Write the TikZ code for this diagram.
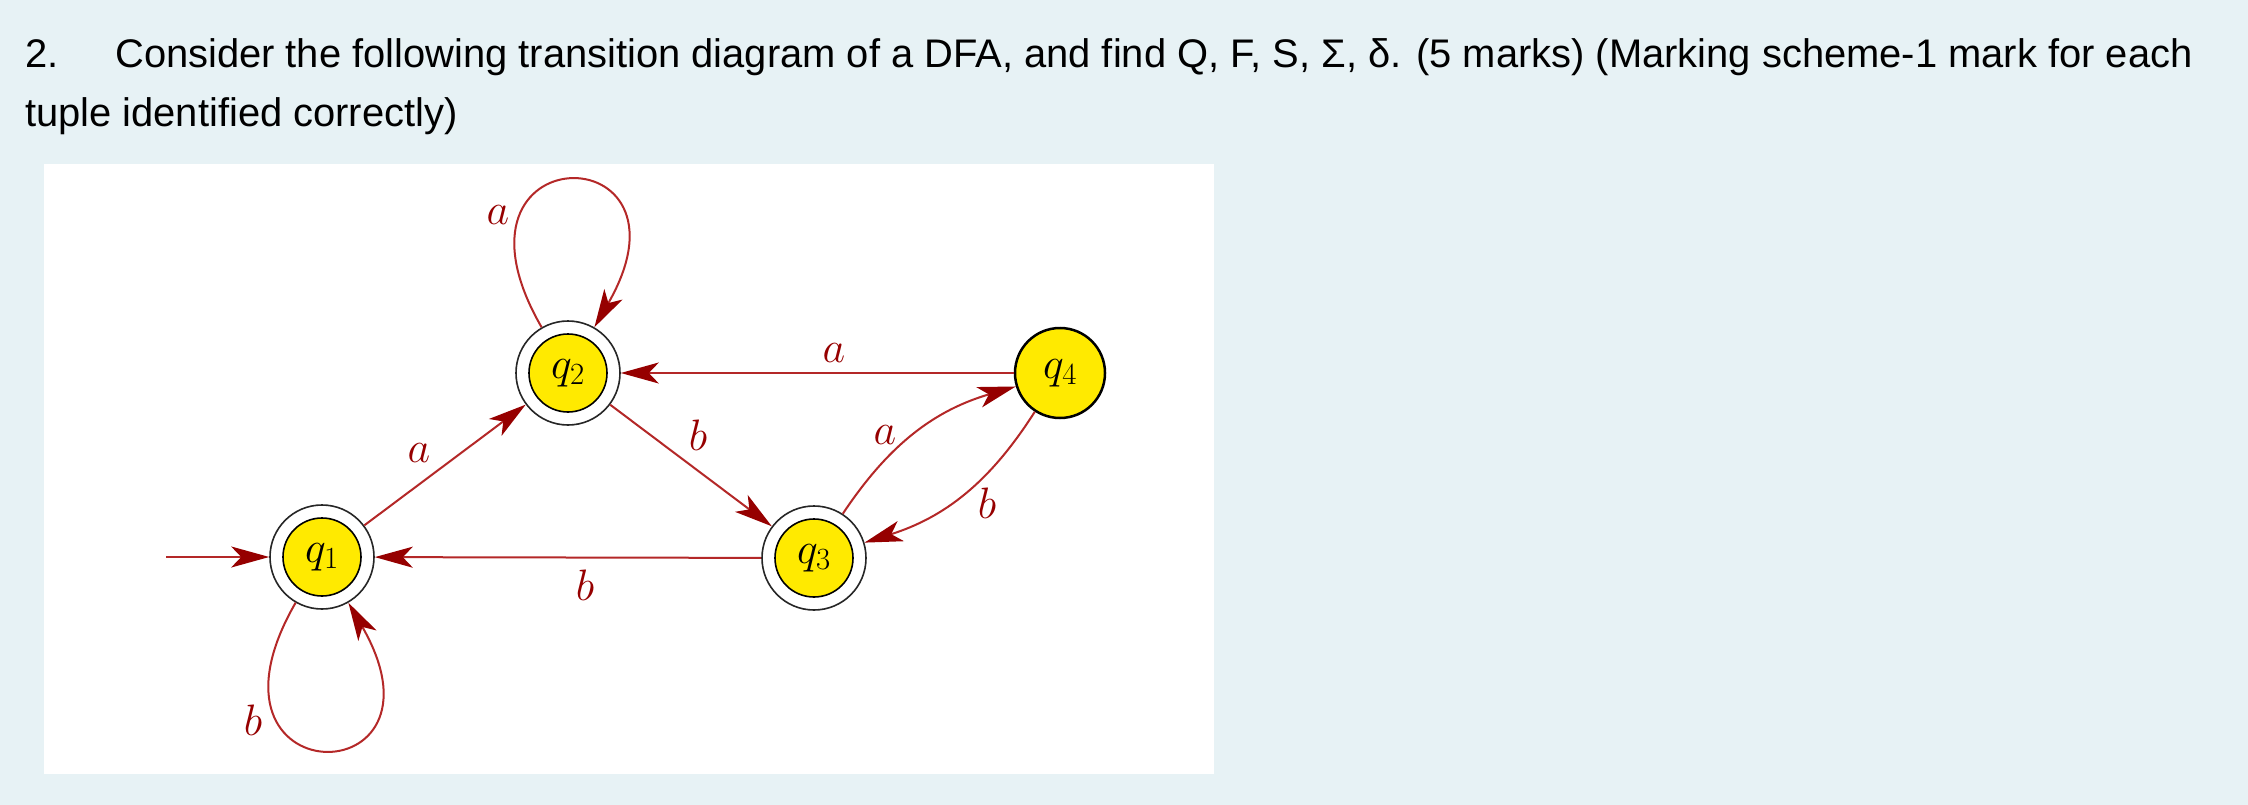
\RequirePackage{fix-cm}
\documentclass[tikz,border=0pt]{standalone}
\usepackage{fontspec}
\setmainfont{Liberation Sans}
\usetikzlibrary{arrows.meta}
\definecolor{bgblue}{RGB}{231,242,245}
\definecolor{stateyellow}{RGB}{255,234,0}
\definecolor{edgered}{RGB}{180,40,40}
\definecolor{tipred}{RGB}{150,0,0}
\newcommand\qfont{\fontsize{39.9}{59}\selectfont}
\newcommand\statefont{\fontsize{44}{50}\selectfont}
\newcommand\lblfont{\fontsize{44}{50}\selectfont}
\begin{document}
\begin{tikzpicture}[x=1pt,y=-1pt,
  acc/.style={circle, draw=black!85, line width=1.6pt, fill=white, minimum size=104pt, inner sep=0pt, font=\statefont,
    path picture={\fill[stateyellow] (path picture bounding box.center) circle[radius=39pt];
                  \draw[black, line width=1.6pt] (path picture bounding box.center) circle[radius=39pt];}},
  plain/.style={circle, draw=black, line width=2.5pt, fill=stateyellow, minimum size=90pt, inner sep=0pt, font=\statefont},
  trans/.style={draw=edgered, line width=2pt, -{Stealth[length=38pt,width=21pt,inset=10pt,color=tipred]}},
  lbl/.style={text=tipred, font=\lblfont, inner sep=0pt},
  txt/.style={anchor=base west, inner sep=0pt, font=\qfont, text=black}]
\fill[bgblue] (0,0) rectangle (2248,805);
\useasboundingbox (0,0) rectangle (2248,805);
\fill[white] (44,164) rectangle (1214,774);

\node[txt] (num) at (25,68) {2.};
\node[txt] (line1) at (115,68) {Consider the following transition diagram of a DFA, and find Q, F, S, Σ, δ. (5 marks) (Marking scheme-1 mark for each};
\node[txt] (line2) at (25,127) {tuple identified correctly)};

\node[acc] (q1) at (322,557) {$q_1$};
\node[acc] (q2) at (568,373) {$q_2$};
\node[acc] (q3) at (814,558) {$q_3$};
\node[plain] (q4) at (1060,373) {$q_4$};
\coordinate (start) at (166,557);

\draw[trans] (start) -- (q1);
\draw[trans] (q1) -- (q2) node[lbl] at (419,453) {$a$};
\draw[trans] (q2) -- (q3) node[lbl] at (698,435) {$b$};
\draw[trans] (q4) -- (q2) node[lbl] at (834,353) {$a$};
\draw[trans] (q3) -- (q1) node[lbl] at (585,585) {$b$};
\draw[trans] (q3) to[bend left=20] (q4) node[lbl] at (885,435) {$a$};
\draw[trans] (q4) to[bend left=20] (q3) node[lbl] at (987,503) {$b$};
\draw[trans] (q2.120) .. controls +(120:225pt) and +(60:225pt) .. (q2.60) node[lbl] at (498,215) {$a$};
\draw[trans] (q1.-120) .. controls +(-120:225pt) and +(-60:225pt) .. (q1.-60) node[lbl] at (253,720) {$b$};
\end{tikzpicture}
\end{document}
